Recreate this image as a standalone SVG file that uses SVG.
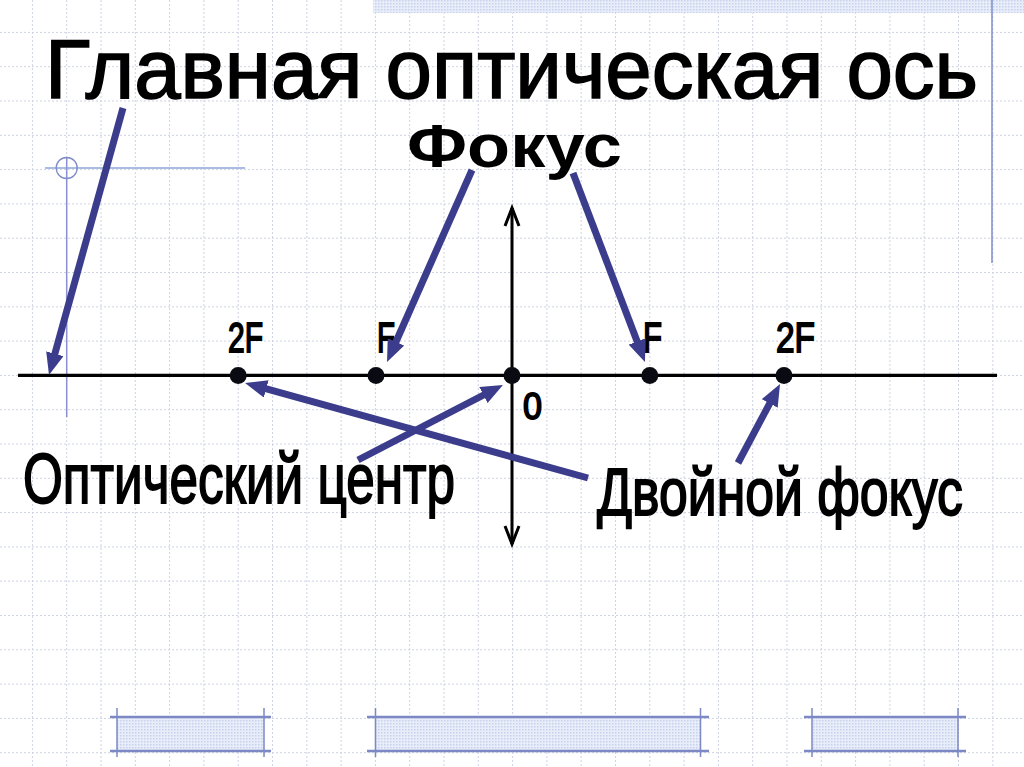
<svg xmlns="http://www.w3.org/2000/svg" width="1024" height="767" viewBox="0 0 1024 767">
  <defs>
    <style>
      .grid { stroke: #cdd3e2; stroke-width: 1; stroke-dasharray: 2 2; fill: none; }
      .deco { stroke: #7f8cc8; fill: none; }
      .barline { stroke: #7c89c4; stroke-width: 2.5; }
      .tick { stroke: #7c89c4; stroke-width: 1.5; }
      .blue { stroke: #3b3d8c; stroke-width: 7; fill: none; marker-end: url(#bhead); }
      .black { stroke: #000; fill: none; }
      .t { font-family: "Liberation Sans", Arial, sans-serif; fill: #000; stroke: #000; stroke-width: 1.6; }
      .nar { font-family: "Liberation Sans", Arial, sans-serif; fill: #000; stroke: #000; stroke-width: 1.8; }
      .lbl { font-family: "Liberation Sans", Arial, sans-serif; font-weight: bold; fill: #000; }
      .dot { fill: #0a0a12; }
    </style>
    <pattern id="hatch" width="3" height="3" patternUnits="userSpaceOnUse">
      <rect width="3" height="3" fill="#e8edf9"/>
      <rect width="1.5" height="1.5" fill="#c6d1ee"/>
    </pattern>
    <marker id="bhead" viewBox="0 0 22 18" refX="10" refY="9" markerWidth="22" markerHeight="18" markerUnits="userSpaceOnUse" orient="auto">
      <path d="M0,0 L22,9 L0,18 Z" fill="#3b3d8c"/>
    </marker>
  </defs>

  <rect width="1024" height="767" fill="#ffffff"/>

  <g id="grid">
    <path class="grid" d="M32.4,0V767 M66.7,0V767 M101,0V767 M135.3,0V767 M169.6,0V767 M203.9,0V767 M238.2,0V767 M272.5,0V767 M306.8,0V767 M341.1,0V767 M375.4,0V767 M409.7,0V767 M444,0V767 M478.3,0V767 M512.6,0V767 M546.9,0V767 M581.2,0V767 M615.5,0V767 M649.8,0V767 M684.1,0V767 M718.4,0V767 M752.7,0V767 M787,0V767 M821.3,0V767 M855.6,0V767 M889.9,0V767 M924.2,0V767 M958.5,0V767 M992.8,0V767"/>
    <path class="grid" d="M0,32.4H1024 M0,66.7H1024 M0,101H1024 M0,135.3H1024 M0,169.6H1024 M0,203.9H1024 M0,238.2H1024 M0,272.5H1024 M0,306.8H1024 M0,341.1H1024 M0,375.4H1024 M0,409.7H1024 M0,444H1024 M0,478.3H1024 M0,512.6H1024 M0,546.9H1024 M0,581.2H1024 M0,615.5H1024 M0,649.8H1024 M0,684.1H1024 M0,718.4H1024 M0,752.7H1024"/>
  </g>

  <g id="decorations">
    <rect x="373" y="0" width="651" height="13" fill="url(#hatch)"/>
    <line x1="992" y1="0" x2="992" y2="263" stroke="#7f8cc8" stroke-width="1.5"/>
    <line x1="45" y1="168" x2="245" y2="168" stroke="#8ea6d8" stroke-width="1.5"/>
    <line x1="66.7" y1="157" x2="66.7" y2="417" stroke="#8a90d0" stroke-width="1.5"/>
    <circle cx="66.7" cy="168" r="10.5" class="deco" stroke-width="1.3"/>
    <rect x="117" y="717" width="147" height="34" fill="url(#hatch)"/>
    <rect x="375" y="717" width="326" height="34" fill="url(#hatch)"/>
    <rect x="812" y="717" width="146" height="34" fill="url(#hatch)"/>
    <path class="barline" d="M110,717H271 M110,751H271 M367,717H709 M367,751H709 M804,717H966 M804,751H966"/>
    <path class="tick" d="M117,708V757 M264,708V757 M375.5,708V757 M700.5,708V757 M812,708V757 M958,708V757"/>
  </g>

  <g id="axis">
    <line x1="18" y1="375.4" x2="997" y2="375.4" stroke="#000" stroke-width="3.3"/>
  </g>

  <g id="lens">
    <line x1="512" y1="208" x2="512" y2="544" class="black" stroke-width="3"/>
    <polyline points="505,226 512,208 519,226" class="black" stroke-width="3"/>
    <polyline points="505,526 512,544 519,526" class="black" stroke-width="3"/>
  </g>

  <g id="points">
    <g id="p-2f-left"><circle class="dot" cx="238.2" cy="375.4" r="8.5"/><text class="nar" x="228" y="352" font-size="42" stroke-width="1" textLength="35" lengthAdjust="spacingAndGlyphs">2F</text></g>
    <g id="p-f-left"><circle class="dot" cx="376" cy="375.4" r="8.5"/><text class="nar" x="377" y="352" font-size="42" stroke-width="1" textLength="18" lengthAdjust="spacingAndGlyphs">F</text></g>
    <g id="p-o"><circle class="dot" cx="512" cy="375.4" r="8.5"/><text class="nar" x="523" y="419" font-size="37" stroke-width="1" textLength="19" lengthAdjust="spacingAndGlyphs">0</text></g>
    <g id="p-f-right"><circle class="dot" cx="649.8" cy="375.4" r="8.5"/><text class="nar" x="643" y="352" font-size="42" stroke-width="1" textLength="19" lengthAdjust="spacingAndGlyphs">F</text></g>
    <g id="p-2f-right"><circle class="dot" cx="784" cy="375.4" r="8.5"/><text class="nar" x="776" y="352" font-size="42" stroke-width="1" textLength="39" lengthAdjust="spacingAndGlyphs">2F</text></g>
  </g>

  <g id="title">
    <text class="t" x="45" y="98" font-size="84" textLength="933" lengthAdjust="spacingAndGlyphs">Главная оптическая ось</text>
  </g>
  <g id="focus-label">
    <text class="lbl" x="407" y="167" font-size="62" textLength="215" lengthAdjust="spacingAndGlyphs">Фокус</text>
  </g>
  <g id="optical-center-label">
    <text class="nar" x="23" y="503" font-size="70" textLength="432" lengthAdjust="spacingAndGlyphs">Оптический центр</text>
  </g>
  <g id="double-focus-label">
    <text class="nar" x="597" y="515" font-size="66" textLength="366" lengthAdjust="spacingAndGlyphs">Двойной фокус</text>
  </g>

  <g id="connectors">
    <line class="blue" x1="123" y1="108" x2="52.2" y2="363.4"/>
    <line class="blue" x1="472" y1="170" x2="391.9" y2="351"/>
    <line class="blue" x1="573" y1="173" x2="640.7" y2="350.8"/>
    <line class="blue" x1="588" y1="478" x2="256.6" y2="386.2"/>
    <line class="blue" x1="738" y1="463" x2="774.4" y2="394.6"/>
    <line class="blue" x1="358" y1="460" x2="492.3" y2="390.5"/>
  </g>
</svg>
